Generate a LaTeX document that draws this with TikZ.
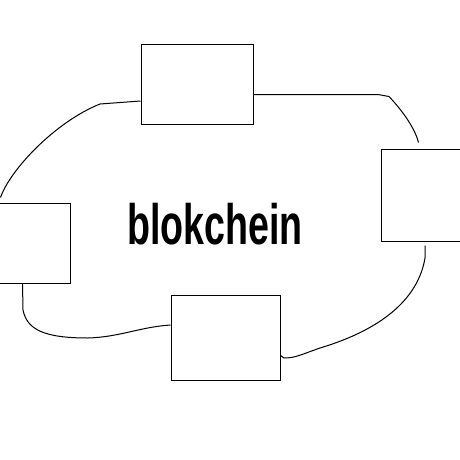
\documentclass[tikz,border=0pt]{standalone}
\usepackage{fontspec}
\setmainfont{Liberation Sans}
\begin{document}
\begin{tikzpicture}[x=1pt,y=-1pt,
  blockbox/.style={draw=black,line width=1pt,rectangle,inner sep=0pt},
  link/.style={draw=black,line width=1pt,line join=round}]
\useasboundingbox (0,0) rectangle (460,460);
\clip (0,0) rectangle (460,460);
\node[blockbox,minimum width=112pt,minimum height=79pt] (top) at (197,84.5) {};
\node[blockbox,minimum width=89pt,minimum height=92pt] (right) at (425.5,195) {};
\node[blockbox,minimum width=75pt,minimum height=80pt] (left) at (32.5,243) {};
\node[blockbox,minimum width=109pt,minimum height=85pt] (bottom) at (225.5,337.5) {};
\node[anchor=base,inner sep=0pt,xscale=0.66] (title) at (215,244)
  {\fontsize{57}{60}\selectfont\bfseries blokchein};
\coordinate (c1) at (100,104);
\coordinate (c2) at (378,94.5);
\coordinate (c3) at (23,310);
\coordinate (c4) at (425,258);
\draw[link] ([yshift=-16.5pt]top.west) -- (c1)
  .. controls (55,122) and (10,170) .. ([xshift=6pt,yshift=5pt]left.north west);
\draw[link] ([yshift=-10pt]top.east) -- (c2) -- (389,96.5)
  .. controls (398,106) and (414,125) .. ([xshift=-7pt,yshift=6pt]right.north);
\draw[link] ([xshift=28pt]left.south west) -- (c3)
  .. controls (27,330) and (45,338) .. (88,338)
  .. controls (120,337) and (140,327) .. ([yshift=12.5pt]bottom.west);
\draw[link] ([xshift=-0.5pt,yshift=-4pt]right.south) -- (c4)
  .. controls (418,300) and (380,330) .. (320,348)
  .. controls (300,355) and (295,358) .. (284,358) -- ([yshift=-18pt]bottom.east);
\end{tikzpicture}
\end{document}
